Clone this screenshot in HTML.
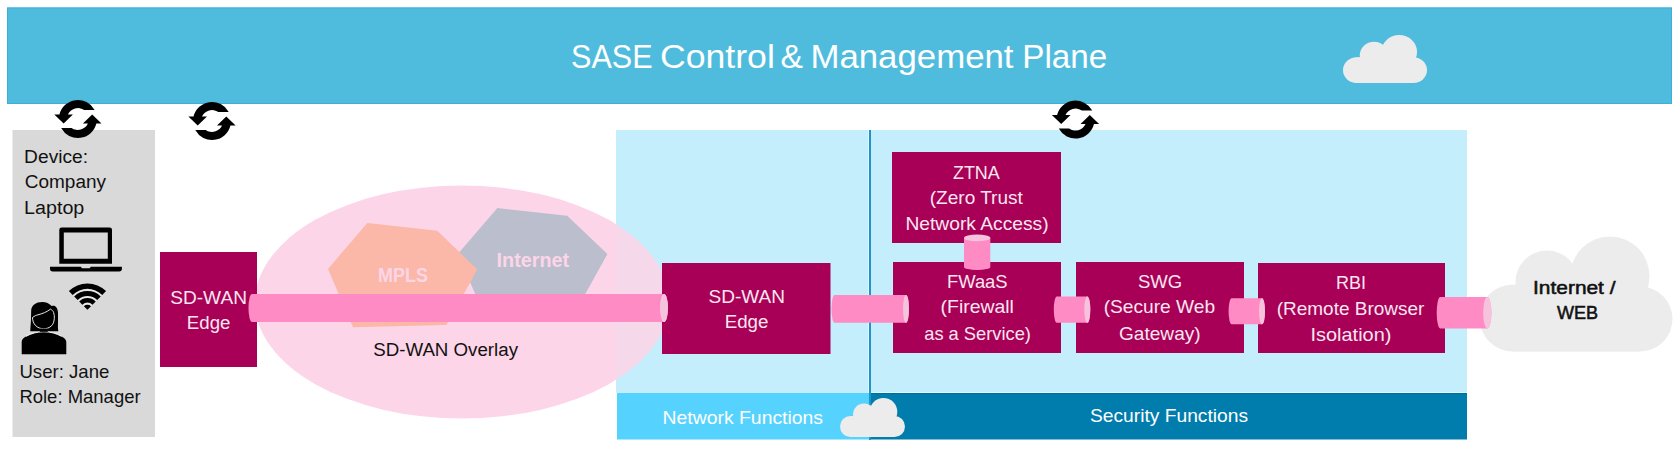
<!DOCTYPE html>
<html><head><meta charset="utf-8"><title>SASE</title>
<style>html,body{margin:0;padding:0;background:#fff;width:1680px;height:453px;overflow:hidden}svg{display:block}text{font-family:"Liberation Sans", sans-serif}</style>
</head><body><svg width="1680" height="453" viewBox="0 0 1680 453" font-family='"Liberation Sans", sans-serif'><rect x="7" y="7.5" width="1665" height="96.5" fill="#50BCDD" /><rect x="7.5" y="8" width="1664" height="95.5" fill="none" stroke="#3DAFD8" stroke-width="1"/><text x="571.0950387596899" y="68.2" font-size="33.5" fill="#fff" text-anchor="start" font-weight="400"  textLength="81.49" lengthAdjust="spacingAndGlyphs">SASE</text><text x="659.9175032175033" y="68.2" font-size="33.5" fill="#fff" text-anchor="start" font-weight="400"  textLength="114.92" lengthAdjust="spacingAndGlyphs">Control</text><text x="780.4844155844156" y="68.2" font-size="33.5" fill="#fff" text-anchor="start" font-weight="400"  textLength="22.52" lengthAdjust="spacingAndGlyphs">&amp;</text><text x="810.4468336812804" y="68.2" font-size="33.5" fill="#fff" text-anchor="start" font-weight="400"  textLength="203.10" lengthAdjust="spacingAndGlyphs">Management</text><text x="1022.2756578947368" y="68.2" font-size="33.5" fill="#fff" text-anchor="start" font-weight="400"  textLength="84.97" lengthAdjust="spacingAndGlyphs">Plane</text><g transform="translate(1343 35) scale(1.2923076923076924 1.2307692307692308)" fill="#ECECEC"><circle cx="10.5" cy="28.5" r="10.5"/><circle cx="24" cy="16.5" r="11"/><circle cx="43.5" cy="13.8" r="13.8"/><circle cx="54.5" cy="28.5" r="10.5"/><rect x="10.5" y="18" width="44" height="21"/></g><rect x="12.5" y="130" width="142.5" height="307" fill="#D9D9D9" /><rect x="616" y="130" width="851" height="263" fill="#C5EEFC" /><rect x="617" y="393" width="253" height="46.5" fill="#56D2FE" /><rect x="870" y="393" width="597" height="46.5" fill="#007DAD" /><rect x="869" y="130" width="2" height="310" fill="#1C95C8" /><rect x="868" y="130" width="1" height="263" fill="#E8F9FF" /><rect x="871" y="392" width="596" height="1" fill="#E5F8FE" /><rect x="871" y="393" width="596" height="1" fill="#006E9C" /><defs><clipPath id="cl"><rect x="0" y="0" width="616" height="453"/></clipPath><clipPath id="cr"><rect x="616" y="0" width="1064" height="453"/></clipPath></defs><ellipse cx="462" cy="302" rx="207" ry="116.5" fill="#FDD5E8" clip-path="url(#cl)"/><ellipse cx="462" cy="302" rx="207" ry="116.5" fill="#FDD5E8" fill-opacity="0.85" clip-path="url(#cr)"/><polygon points="497.4,208 567.2,215.8 607.4,254 576.4,310 483,312.3 458,253.8" fill="#BBBECC"/><polygon points="367.4,222.9 437.2,230.7 477.4,269.4 446.4,324.9 353,327.2 328,268.9" fill="#FBB7A7"/><text x="378.11437125748506" y="281.8" font-size="19.3" fill="#FDD5E8" text-anchor="start" font-weight="700"  textLength="49.90" lengthAdjust="spacingAndGlyphs">MPLS</text><text x="496.5958193979933" y="267.3" font-size="19.6" fill="#FDD5E8" text-anchor="start" font-weight="700"  textLength="72.46" lengthAdjust="spacingAndGlyphs">Internet</text><text x="373.2396672731999" y="356.3" font-size="19.2" fill="#111" text-anchor="start" font-weight="400"  textLength="144.78" lengthAdjust="spacingAndGlyphs">SD-WAN Overlay</text><rect x="160" y="252" width="97" height="115" fill="#A70056" /><rect x="662" y="263" width="168.5" height="91" fill="#A70056" /><rect x="892" y="152" width="169" height="91" fill="#A70056" /><rect x="893" y="262" width="168" height="91" fill="#A70056" /><rect x="1076" y="262" width="168" height="91" fill="#A70056" /><rect x="1258" y="263" width="187" height="90" fill="#A70056" /><path d="M252.0 294 L664 294 L664 322 L252.0 322 A3.5 14.0 0 0 1 252.0 294 Z" fill="#FF8BC5"/><path d="M664 294 A4 14.0 0 0 1 664 322 A4 14.0 0 0 1 664 294 Z" fill="#FF8BC5"/><ellipse cx="664" cy="308.0" rx="4" ry="14.0" fill="#F5C3DC"/><path d="M834.5 295 L906 295 L906 322.7 L834.5 322.7 A3 13.849999999999994 0 0 1 834.5 295 Z" fill="#FF8BC5"/><path d="M906 295 A3 13.849999999999994 0 0 1 906 322.7 A3 13.849999999999994 0 0 1 906 295 Z" fill="#FF8BC5"/><ellipse cx="906" cy="308.85" rx="3" ry="13.849999999999994" fill="#F5C3DC"/><path d="M1056.8 296.4 L1087.3 296.4 L1087.3 322.8 L1056.8 322.8 A3 13.200000000000017 0 0 1 1056.8 296.4 Z" fill="#FF8BC5"/><path d="M1087.3 296.4 A3 13.200000000000017 0 0 1 1087.3 322.8 A3 13.200000000000017 0 0 1 1087.3 296.4 Z" fill="#FF8BC5"/><ellipse cx="1087.3" cy="309.6" rx="3" ry="13.200000000000017" fill="#F5C3DC"/><path d="M1231.6 298.2 L1262 298.2 L1262 324.2 L1231.6 324.2 A3 13.0 0 0 1 1231.6 298.2 Z" fill="#FF8BC5"/><path d="M1262 298.2 A3 13.0 0 0 1 1262 324.2 A3 13.0 0 0 1 1262 298.2 Z" fill="#FF8BC5"/><ellipse cx="1262" cy="311.2" rx="3" ry="13.0" fill="#F5C3DC"/><path d="M964 237.9 L990.3 237.9 L990.3 267 A13.149999999999977 3 0 0 1 964 267 Z" fill="#FF8BC5"/><ellipse cx="977.15" cy="237.9" rx="13.149999999999977" ry="3.4" fill="#F5C3DC"/><g fill="#ECECEC"><circle cx="1513" cy="318" r="33.5"/><circle cx="1547" cy="282" r="31.5"/><circle cx="1610" cy="276" r="39.5"/><circle cx="1640" cy="319" r="32.5"/><rect x="1513" y="285" width="127" height="66.6"/></g><path d="M1440.2 297.1 L1487.3000000000002 297.1 L1487.3000000000002 328.4 L1440.2 328.4 A3.5 15.649999999999977 0 0 1 1440.2 297.1 Z" fill="#FF8BC5"/><path d="M1487.3000000000002 297.1 A4.1 15.649999999999977 0 0 1 1487.3000000000002 328.4 A4.1 15.649999999999977 0 0 1 1487.3000000000002 297.1 Z" fill="#FF8BC5"/><ellipse cx="1487.3000000000002" cy="312.75" rx="4.1" ry="15.649999999999977" fill="#F5C3DC"/><g transform="translate(840 398) scale(1.0 1.0)" fill="#ECECEC"><circle cx="10.5" cy="28.5" r="10.5"/><circle cx="24" cy="16.5" r="11"/><circle cx="43.5" cy="13.8" r="13.8"/><circle cx="54.5" cy="28.5" r="10.5"/><rect x="10.5" y="18" width="44" height="21"/></g><text x="170.2213881748072" y="303.6" font-size="18.8" fill="#FCE6F1" text-anchor="start" font-weight="400"  textLength="76.75" lengthAdjust="spacingAndGlyphs">SD-WAN</text><text x="186.87131221719457" y="328.6" font-size="18.8" fill="#FCE6F1" text-anchor="start" font-weight="400"  textLength="43.54" lengthAdjust="spacingAndGlyphs">Edge</text><text x="708.5249357326478" y="302.7" font-size="18.8" fill="#FCE6F1" text-anchor="start" font-weight="400"  textLength="76.44" lengthAdjust="spacingAndGlyphs">SD-WAN</text><text x="724.7676018099547" y="327.7" font-size="18.8" fill="#FCE6F1" text-anchor="start" font-weight="400"  textLength="43.64" lengthAdjust="spacingAndGlyphs">Edge</text><text x="952.9260869565218" y="178.5" font-size="19" fill="#FCE6F1" text-anchor="start" font-weight="400"  textLength="46.83" lengthAdjust="spacingAndGlyphs">ZTNA</text><text x="929.7191701244813" y="203.8" font-size="19" fill="#FCE6F1" text-anchor="start" font-weight="400"  textLength="93.13" lengthAdjust="spacingAndGlyphs">(Zero Trust</text><text x="905.423336072309" y="229.6" font-size="19" fill="#FCE6F1" text-anchor="start" font-weight="400"  textLength="143.18" lengthAdjust="spacingAndGlyphs">Network Access)</text><text x="946.9919242902208" y="287.9" font-size="19" fill="#FCE6F1" text-anchor="start" font-weight="400"  textLength="60.63" lengthAdjust="spacingAndGlyphs">FWaaS</text><text x="940.5973698630137" y="313.4" font-size="19" fill="#FCE6F1" text-anchor="start" font-weight="400"  textLength="73.28" lengthAdjust="spacingAndGlyphs">(Firewall</text><text x="924.231832460733" y="339.7" font-size="19" fill="#FCE6F1" text-anchor="start" font-weight="400"  textLength="106.73" lengthAdjust="spacingAndGlyphs">as a Service)</text><text x="1137.948148148148" y="287.8" font-size="19" fill="#FCE6F1" text-anchor="start" font-weight="400"  textLength="44.23" lengthAdjust="spacingAndGlyphs">SWG</text><text x="1103.7129506475326" y="313.2" font-size="19" fill="#FCE6F1" text-anchor="start" font-weight="400"  textLength="111.38" lengthAdjust="spacingAndGlyphs">(Secure Web</text><text x="1119.0470475276045" y="339.8" font-size="19" fill="#FCE6F1" text-anchor="start" font-weight="400"  textLength="81.56" lengthAdjust="spacingAndGlyphs">Gateway)</text><text x="1336.1235609103078" y="289.2" font-size="19" fill="#FCE6F1" text-anchor="start" font-weight="400"  textLength="30.01" lengthAdjust="spacingAndGlyphs">RBI</text><text x="1276.7236103896105" y="314.7" font-size="19" fill="#FCE6F1" text-anchor="start" font-weight="400"  textLength="147.61" lengthAdjust="spacingAndGlyphs">(Remote Browser</text><text x="1310.5680164018454" y="340.6" font-size="19" fill="#FCE6F1" text-anchor="start" font-weight="400"  textLength="80.80" lengthAdjust="spacingAndGlyphs">Isolation)</text><text x="1533.0769709543567" y="293.8" font-size="18.8" fill="#111" text-anchor="start" font-weight="400" stroke="#111" stroke-width="0.55" textLength="82.50" lengthAdjust="spacingAndGlyphs">Internet /</text><text x="1556.9277477477478" y="318.8" font-size="18.8" fill="#111" text-anchor="start" font-weight="400" stroke="#111" stroke-width="0.55" textLength="41.14" lengthAdjust="spacingAndGlyphs">WEB</text><text x="662.6116393040921" y="423.5" font-size="19" fill="#fff" text-anchor="start" font-weight="400"  textLength="160.40" lengthAdjust="spacingAndGlyphs">Network Functions</text><text x="1089.9154715127702" y="422.3" font-size="19" fill="#fff" text-anchor="start" font-weight="400"  textLength="158.17" lengthAdjust="spacingAndGlyphs">Security Functions</text><text x="24.12746835443038" y="162.9" font-size="18.8" fill="#111" text-anchor="start" font-weight="400"  textLength="63.95" lengthAdjust="spacingAndGlyphs">Device:</text><text x="24.7503784295175" y="187.9" font-size="18.8" fill="#111" text-anchor="start" font-weight="400"  textLength="81.28" lengthAdjust="spacingAndGlyphs">Company</text><text x="24.08459441036128" y="214.2" font-size="18.8" fill="#111" text-anchor="start" font-weight="400"  textLength="60.25" lengthAdjust="spacingAndGlyphs">Laptop</text><text x="19.448875689435724" y="377.8" font-size="18.6" fill="#111" text-anchor="start" font-weight="400"  textLength="89.96" lengthAdjust="spacingAndGlyphs">User: Jane</text><text x="19.38439628482972" y="403" font-size="18.6" fill="#111" text-anchor="start" font-weight="400"  textLength="121.23" lengthAdjust="spacingAndGlyphs">Role: Manager</text><g transform="translate(77.9 119)" fill="#000"><path d="M16.73 -9 A19 19 0 0 0 -18.46 -4.5 L-23.6 -4.5 L-14.3 4.5 L-5 -4.5 L-10.04 -4.5 A11 11 0 0 1 6.32 -9 Z"/><path d="M16.73 -9 A19 19 0 0 0 -18.46 -4.5 L-23.6 -4.5 L-14.3 4.5 L-5 -4.5 L-10.04 -4.5 A11 11 0 0 1 6.32 -9 Z" transform="rotate(180)"/></g><g transform="translate(212 121)" fill="#000"><path d="M16.73 -9 A19 19 0 0 0 -18.46 -4.5 L-23.6 -4.5 L-14.3 4.5 L-5 -4.5 L-10.04 -4.5 A11 11 0 0 1 6.32 -9 Z"/><path d="M16.73 -9 A19 19 0 0 0 -18.46 -4.5 L-23.6 -4.5 L-14.3 4.5 L-5 -4.5 L-10.04 -4.5 A11 11 0 0 1 6.32 -9 Z" transform="rotate(180)"/></g><g transform="translate(1075.5 119.6)" fill="#000"><path d="M16.73 -9 A19 19 0 0 0 -18.46 -4.5 L-23.6 -4.5 L-14.3 4.5 L-5 -4.5 L-10.04 -4.5 A11 11 0 0 1 6.32 -9 Z"/><path d="M16.73 -9 A19 19 0 0 0 -18.46 -4.5 L-23.6 -4.5 L-14.3 4.5 L-5 -4.5 L-10.04 -4.5 A11 11 0 0 1 6.32 -9 Z" transform="rotate(180)"/></g><g fill="#000"><path fill-rule="evenodd" d="M61.7 227.4 H109.6 A2.4 2.4 0 0 1 112 229.8 V263.7 H59.3 V229.8 A2.4 2.4 0 0 1 61.7 227.4 Z M63.8 232.5 V258.7 H107.8 V232.5 Z"/><path d="M50 266.7 H80.8 L82 268.2 H89.6 L90.9 266.7 H121.9 V268.8 A2.7 2.7 0 0 1 119.2 271.5 H52.7 A2.7 2.7 0 0 1 50 268.8 Z"/></g><path fill="#000" d="M87.45 309.7 L83.91 306.16 A5 5 0 0 1 90.99 306.16 ZM82.43 304.68 L79.18 301.43 A11.7 11.7 0 0 1 95.72 301.43 L92.47 304.68 A7.1 7.1 0 0 0 82.43 304.68 ZM77.69 299.94 L74.16 296.41 A18.8 18.8 0 0 1 100.74 296.41 L97.21 299.94 A13.8 13.8 0 0 0 77.69 299.94 ZM72.67 294.92 L68.85 291.10 A26.3 26.3 0 0 1 106.05 291.10 L102.23 294.92 A20.9 20.9 0 0 0 72.67 294.92 Z"/><g fill="#000"><path d="M42.3 302 C46 302 48.5 303.3 50.2 304.8 L51.6 306.1 C52.5 305.6 53.5 305.6 54.3 305.8 C56.5 306.5 58 309.5 58 313 L58 321.5 C58 325 57.7 327.5 58.3 331.2 L30.2 331.2 C30.5 327 31 322 31 317.8 L31.2 310 C31.8 305 36 302 42.3 302 Z"/><path d="M21.7 354.2 V342 C21.7 340 23 337.8 25.9 336.4 C31 333.5 37 331.8 43.8 331.8 C50.6 331.8 56.6 333.5 61.7 336.4 C64.6 337.8 66.3 340 66.3 342 V354.2 Z"/></g><path d="M32.5 317.5 C34.5 316 36 315.3 38 314.8 C42 313.8 47 312 50.5 309.1 C52 310 53.2 311 53.6 312.5 C54.3 314.5 54.5 316.5 54.3 318.5 C54 322 53.2 324 51.5 325.8 C49.5 327.8 46.5 328.8 43.8 328.8 C40.5 328.8 37.5 327.5 35.5 325.5 C33.5 323.2 32.5 320.5 32.5 317.5 Z" fill="#000" stroke="#fff" stroke-width="0.9"/><path d="M25.9 336.4 C31 333.5 37 331.8 43.8 331.8 C50.6 331.8 56.6 333.5 61.7 336.4" fill="none" stroke="#fff" stroke-width="0.9"/><rect x="39.8" y="328.6" width="8" height="3.2" fill="#000"/><path d="M83.17 305.42 A6.05 6.05 0 0 1 91.73 305.42 M78.43 300.68 A12.75 12.75 0 0 1 96.47 300.68 M73.41 295.66 A19.85 19.85 0 0 1 101.49 295.66" fill="none" stroke="#fff" stroke-width="0.7" stroke-opacity="0.8"/></svg></body></html>
